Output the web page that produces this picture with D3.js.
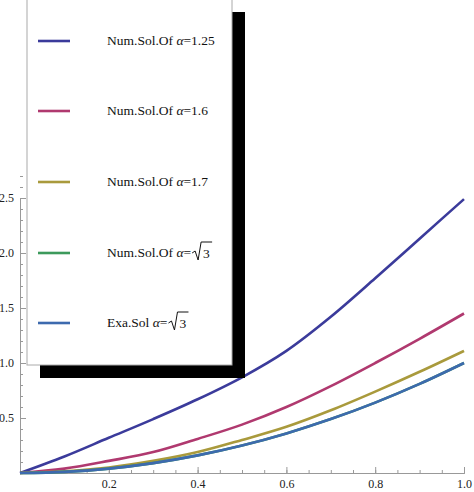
<!DOCTYPE html>
<html>
<script src="https://d3js.org/d3.v7.min.js"></script>
<style>body{margin:0;background:#fff} text{font-family:"Liberation Serif",serif;}</style>
<body>
<svg width="474" height="492" id="MainSVG"></svg>
<script>
// data
var xs_vals = [0,0.1,0.2,0.3,0.4,0.5,0.6,0.7,0.8,0.9,1.0];
var a125 = [0,0.15,0.32,0.49,0.67,0.87,1.11,1.42,1.77,2.13,2.49];
var a16  = [0,0.04,0.11,0.19,0.31,0.44,0.60,0.79,1.00,1.22,1.45];
var a17  = [0,0.015,0.05,0.11,0.19,0.30,0.42,0.57,0.74,0.92,1.11];
var numSqrt3 = [0,0.01,0.04,0.09,0.16,0.25,0.36,0.49,0.64,0.81,1.0];
var exaSqrt3 = [0,0.01,0.04,0.09,0.16,0.25,0.36,0.49,0.64,0.81,1.0];
var xTicks = [0.2,0.4,0.6,0.8,1.0];
var yTicks = [0.5,1.0,1.5,2.0,2.5];

var series = [
  {vals:a125, color:"#3b3b9b", label:"Num.Sol.Of α=1.25"},
  {vals:a16, color:"#b0396f", label:"Num.Sol.Of α=1.6"},
  {vals:a17, color:"#a99a3c", label:"Num.Sol.Of α=1.7"},
  {vals:numSqrt3, color:"#3c9a5c", label:"Num.Sol.Of α=", sqrt:true},
  {vals:exaSqrt3, color:"#3d6aae", label:"Exa.Sol α=", sqrt:true}
];

var svg = d3.select("svg");
var x = d3.scaleLinear().domain([0,1]).range([20,464]);
var y = d3.scaleLinear().domain([0,2.5]).range([473,198]);

// axes
var xa = svg.append("g").attr("transform","translate(0,473)");
xa.call(d3.axisBottom(x).tickValues(d3.range(0.05,1.001,0.05)).tickSize(-3).tickFormat(""));
xa.append("g").call(d3.axisBottom(x).tickValues(xTicks).tickSize(-6).tickPadding(6).tickFormat(d3.format(".1f")));
var ya = svg.append("g").attr("transform","translate(20,0)");
ya.call(d3.axisLeft(y).tickValues(d3.range(0.1,2.75,0.1)).tickSize(-3).tickFormat(""));
ya.append("g").call(d3.axisLeft(y).tickValues(yTicks).tickSize(-6).tickPadding(6).tickFormat(d3.format(".1f")));
svg.selectAll(".domain").attr("stroke","#999");
svg.selectAll(".tick line").attr("stroke","#999");
svg.selectAll(".tick text").attr("font-family","Liberation Serif").attr("font-size",12).attr("fill","#222");

// curves
var line = d3.line().x(function(d,i){return x(xs_vals[i]);}).y(function(d){return y(d);}).curve(d3.curveMonotoneX);
series.forEach(function(s){
  svg.append("path").attr("d",line(s.vals)).attr("fill","none")
    .attr("stroke",s.color).attr("stroke-width",2.6);
});

// legend with shadow
svg.append("rect").attr("x",40).attr("y",12).attr("width",205).attr("height",366).attr("fill","#000");
svg.append("rect").attr("x",27).attr("y",-2).attr("width",205).attr("height",367).attr("fill","#fff").attr("stroke","#aaa");
var rows = [41,111,182,253,323];
series.forEach(function(s,i){
  var g = svg.append("g").attr("transform","translate(0,"+rows[i]+")");
  g.append("line").attr("x1",38).attr("x2",70).attr("stroke",s.color).attr("stroke-width",2.6);
  var t = g.append("text").attr("x",107).attr("y",4).attr("font-size",13.5).attr("fill","#111");
  var parts = s.label.split("α");
  t.append("tspan").text(parts[0]);
  t.append("tspan").attr("font-style","italic").text("α");
  t.append("tspan").text(parts[1]);
  if(s.sqrt){
    var w = t.node().getComputedTextLength();
    var sx = 107 + w + 1;
    g.append("path").attr("d","M"+sx+",0 L"+(sx+3)+",-2 L"+(sx+6)+",7 L"+(sx+9)+",-11 L"+(sx+20)+",-11")
      .attr("fill","none").attr("stroke","#111").attr("stroke-width",1);
    g.append("text").attr("x",sx+11).attr("y",5).attr("font-size",13.5).attr("fill","#111").text("3");
  }
});
</script>
</body>
</html>
